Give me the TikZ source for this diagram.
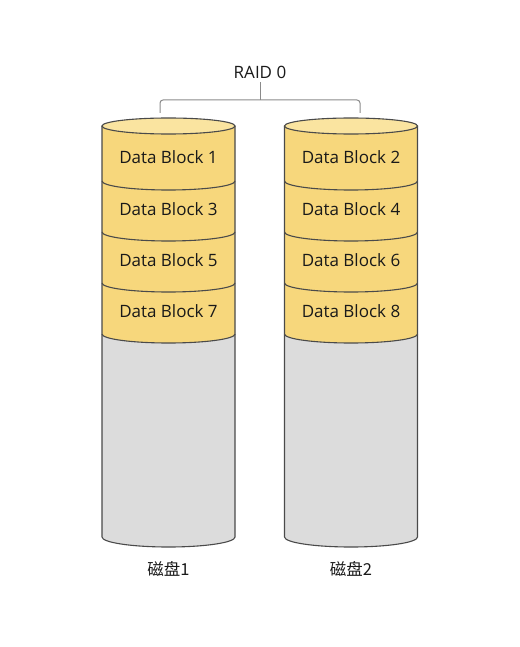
\documentclass[tikz,border=0pt]{standalone}
\usepackage{fontspec}
\setmainfont{Open Sans}
\newfontfamily\cjk{Noto Sans CJK SC}
\definecolor{blockyellow}{HTML}{F7D77C}
\definecolor{capyellow}{HTML}{FAE4A0}
\definecolor{diskgray}{HTML}{DCDCDC}
\definecolor{edgec}{HTML}{4A4A4A}
\definecolor{brkc}{HTML}{8A8A8A}
\tikzset{
  lbl/.style={font=\fontsize{17}{19}\selectfont, text=black!90, inner sep=0pt},
  cjklbl/.style={font=\cjk\fontsize{16.5}{19}\selectfont, text=black!90, inner sep=0pt},
  edge/.style={draw=edgec, line width=1.1pt},
  brk/.style={draw=brkc, line width=1pt, rounded corners=3pt},
}
\begin{document}
\begin{tikzpicture}[x=1pt,y=1pt]
\path[use as bounding box] (0,0) rectangle (519,-647);
\foreach \cx/\a/\b/\c/\d/\dn in {168.5/1/3/5/7/1, 351/2/4/6/8/2}{
  \def\w{66.5}
  % gray body
  \fill[diskgray] (\cx-\w,-334) -- (\cx-\w,-537) arc (180:360:\w pt and 10pt) -- (\cx+\w,-334) -- cycle;
  \draw[edge] (\cx-\w,-334) -- (\cx-\w,-537) arc (180:360:\w pt and 10pt) -- (\cx+\w,-334);
  % yellow part
  \fill[blockyellow] (\cx-\w,-126) -- (\cx-\w,-334) arc (180:360:\w pt and 9pt) -- (\cx+\w,-126) -- cycle;
  \draw[edge] (\cx-\w,-126) -- (\cx-\w,-334) arc (180:360:\w pt and 9pt) -- (\cx+\w,-126);
  \foreach \yy in {181,232,283}{
    \draw[edge] (\cx-\w,-\yy) arc (180:360:\w pt and 9pt);
  }
  % top cap
  \filldraw[edge, fill=capyellow] (\cx,-126) ellipse (\w pt and 8pt);
  \node[lbl] (b\a) at (\cx,-157) {Data Block \a};
  \node[lbl] (b\b) at (\cx,-209) {Data Block \b};
  \node[lbl] (b\c) at (\cx,-260) {Data Block \c};
  \node[lbl] (b\d) at (\cx,-311) {Data Block \d};
  \node[cjklbl] (disk\dn) at (\cx,-569) {磁盘\dn};
}
\node[lbl] (raid) at (260,-72) {RAID 0};
\coordinate (junc) at (260,-100);
\coordinate (lend) at (160,-113);
\coordinate (rend) at (360,-113);
\draw[brk] (lend) |- (junc) -| (rend);
\draw[brk] (raid.south) ++(0,-4pt) -- (junc);
\end{tikzpicture}
\end{document}
